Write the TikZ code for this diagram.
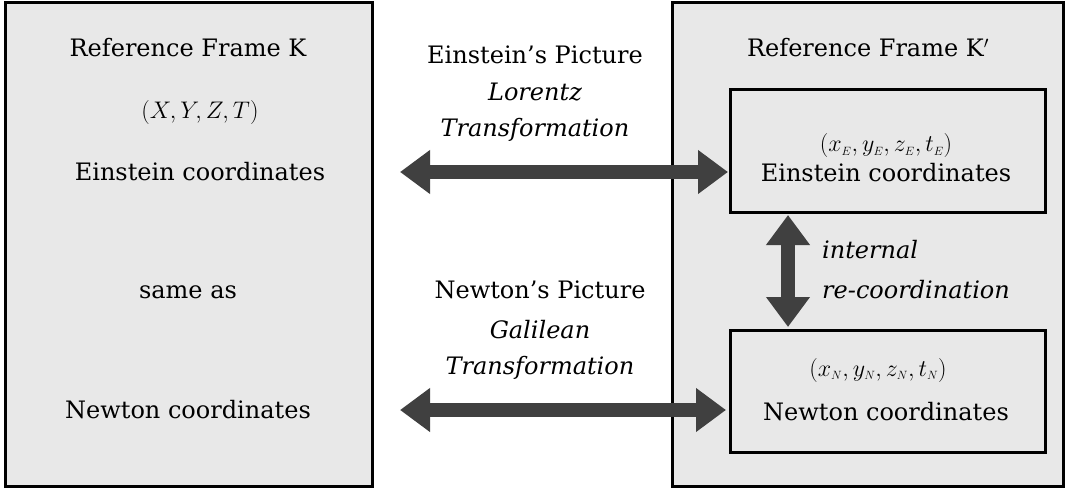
\RequirePackage{fix-cm}
\documentclass[tikz,border=0pt]{standalone}
\usepackage{fontspec}
\setmainfont{DejaVu Serif}
\usetikzlibrary{arrows.meta}
\begin{document}
\begin{tikzpicture}[x=1pt,y=-1pt,
  frame/.style={draw=black,line width=3pt,fill=gray!18},
  inner/.style={draw=black,line width=3pt},
  txt/.style={font=\fontsize{24}{28}\selectfont,inner sep=0pt},
  itx/.style={txt,font=\fontsize{24}{28}\selectfont\itshape},
  bigarrow/.style={draw=black!75,line width=14pt,{Triangle[width=42pt,length=30pt]}-{Triangle[width=42pt,length=30pt]}}]
\useasboundingbox (0,0) rectangle (1068,489);
\draw[frame] (5,3) rectangle (372,486);
\draw[frame] (672,3) rectangle (1063,486);
\draw[inner] (730,90) rectangle (1045,213);
\draw[inner] (730,330) rectangle (1045,452);
\node[txt] (lk) at (188,48) {Reference Frame K};
\node[txt] (lxyz) at (200,113) {$(X,Y,Z,T)$};
\node[txt] (le) at (200,172) {Einstein coordinates};
\node[txt] (ls) at (188,292) {same as};
\node[txt] (ln) at (188,410) {Newton coordinates};
\node[txt] (ep) at (535,55) {Einstein's Picture};
\node[itx] (lo) at (535,92) {Lorentz};
\node[itx] (lt) at (535,130) {Transformation};
\node[txt] (np) at (540,290) {Newton's Picture};
\node[itx] (ga) at (540,330) {Galilean};
\node[itx] (gt) at (540,368) {Transformation};
\node[txt] (rk) at (868,48) {Reference Frame K$'$};
\node[txt] (ec) at (886,146) {$(x_{\scriptscriptstyle E},y_{\scriptscriptstyle E},z_{\scriptscriptstyle E},t_{\scriptscriptstyle E})$};
\node[txt] (ee) at (886,173) {Einstein coordinates};
\node[txt] (nc) at (878,370) {$(x_{\scriptscriptstyle N},y_{\scriptscriptstyle N},z_{\scriptscriptstyle N},t_{\scriptscriptstyle N})$};
\node[txt] (ne) at (886,412) {Newton coordinates};
\node[itx,anchor=west] (in) at (822,250) {internal};
\node[itx,anchor=west] (rc) at (822,290) {re-coordination};
\coordinate (a1) at (400,172); \coordinate (a2) at (728,172);
\coordinate (b1) at (400,410); \coordinate (b2) at (726,410);
\coordinate (c1) at (788,215); \coordinate (c2) at (788,327);
\draw[bigarrow] (a1) -- (a2);
\draw[bigarrow] (b1) -- (b2);
\draw[bigarrow] (c1) -- (c2);
\end{tikzpicture}
\end{document}
